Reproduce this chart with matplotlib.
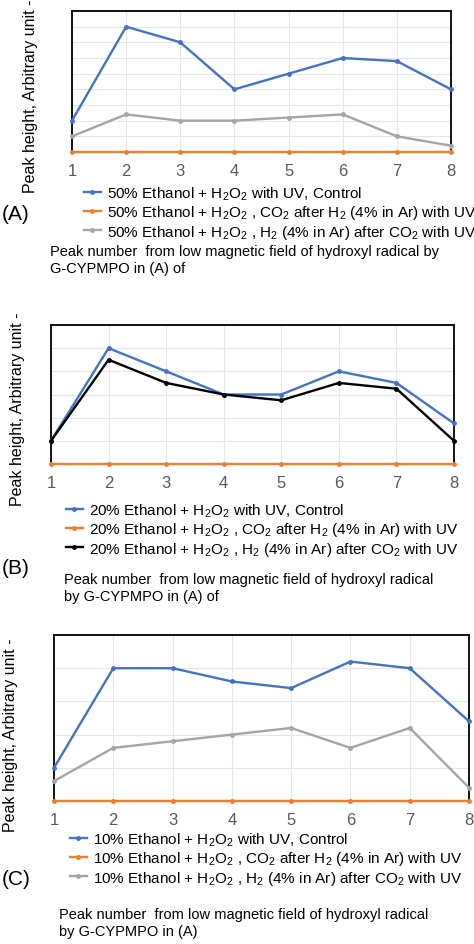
import matplotlib
matplotlib.use("Agg")
import matplotlib.pyplot as plt

plt.rcParams['font.family'] = ['Liberation Sans', 'DejaVu Sans']
plt.rcParams['mathtext.fontset'] = 'custom'
plt.rcParams['mathtext.rm'] = 'Liberation Sans'

peaks = [1, 2, 3, 4, 5, 6, 7, 8]

a_control = [2.0, 8.0, 7.0, 4.0, 5.0, 6.0, 5.8, 4.0]
a_co2_h2 = [0, 0, 0, 0, 0, 0, 0, 0]
a_h2_co2 = [1.0, 2.4, 2.0, 2.0, 2.2, 2.4, 1.0, 0.4]

b_control = [1.0, 5.0, 4.0, 3.0, 3.0, 4.0, 3.5, 1.75]
b_co2_h2 = [0, 0, 0, 0, 0, 0, 0, 0]
b_h2_co2 = [1.0, 4.5, 3.5, 3.0, 2.75, 3.5, 3.25, 1.0]

c_control = [1.0, 4.0, 4.0, 3.6, 3.4, 4.2, 4.0, 2.4]
c_co2_h2 = [0, 0, 0, 0, 0, 0, 0, 0]
c_h2_co2 = [0.6, 1.6, 1.8, 2.0, 2.2, 1.6, 2.2, 0.4]

W, H = 474, 945
BLUE, ORANGE, GRAY, BLACK = '#4472c4', '#ed7d31', '#a5a5a5', '#000000'


def labels(pct):
    return [pct + r"% Ethanol + H$_2$O$_2$ with UV, Control",
            pct + r"% Ethanol + H$_2$O$_2$ , CO$_2$ after H$_2$ (4% in Ar) with UV",
            pct + r"% Ethanol + H$_2$O$_2$ , H$_2$ (4% in Ar) after CO$_2$ with UV"]


def panel(fig, box, ymax, series, colors, pct, tag, tagy, legx, legy, capx, capy, caption, ylaby):
    x0, y0, x1, y1 = box
    ax = fig.add_axes([x0 / W, 1 - y1 / H, (x1 - x0) / W, (y1 - y0) / H])
    labs = labels(pct)
    # orange drawn last so it sits on the axis
    for i in [0, 2, 1]:
        ax.plot(peaks, series[i], color=colors[i], lw=1.7, marker='o', ms=2.5,
                label=labs[i], clip_on=False, zorder=3 + (i == 1))
    ax.set_xlim(1, 8)
    ax.set_ylim(0, ymax)
    ax.set_xticks(peaks)
    ax.set_yticks(range(ymax + 1))
    ax.set_yticklabels([])
    ax.tick_params(axis='both', length=0, labelsize=12, labelcolor='#595959', pad=8)
    ax.grid(True, color='#e6e6e6', lw=0.8)
    for s in ax.spines.values():
        s.set_linewidth(1.3)
    ax.set_ylabel("Peak height, Arbitrary unit -", fontsize=11.5)
    ax.yaxis.set_label_coords(-(x0 - ylaby) / (x1 - x0), 0.4)
    handles, lbls = ax.get_legend_handles_labels()
    idx = [lbls.index(l) for l in labs]
    fig.legend([handles[i] for i in idx], [lbls[i] for i in idx],
               loc='upper left', bbox_to_anchor=(legx / W, 1 - legy / H),
               frameon=False, fontsize=11, handlelength=1.1, handletextpad=0.4,
               labelspacing=0.1, borderaxespad=0, borderpad=0)
    fig.text(2 / W, 1 - tagy / H, tag, fontsize=15, va='center')
    fig.text(capx / W, 1 - capy / H, caption, fontsize=10.5, va='top', linespacing=1.3)


fig = plt.figure(figsize=(W / 100, H / 100), dpi=100)

panel(fig, (72, 12, 451, 153), 9, [a_control, a_co2_h2, a_h2_co2], [BLUE, ORANGE, GRAY],
      '50', '(A)', 215, 84, 185, 50, 245,
      "Peak number  from low magnetic field of hydroxyl radical by\nG-CYPMPO in (A) of", 38)
panel(fig, (51, 326, 454, 465), 6, [b_control, b_co2_h2, b_h2_co2], [BLUE, ORANGE, BLACK],
      '20', '(B)', 568, 66, 502, 64, 573,
      "Peak number  from low magnetic field of hydroxyl radical\nby G-CYPMPO in (A) of", 25)
panel(fig, (54, 636, 469, 802), 5, [c_control, c_co2_h2, c_h2_co2], [BLUE, ORANGE, GRAY],
      '10', '(C)', 880, 70, 831, 59, 908,
      "Peak number  from low magnetic field of hydroxyl radical\nby G-CYPMPO in (A)", 18)

fig.savefig("out.png", dpi=100)
